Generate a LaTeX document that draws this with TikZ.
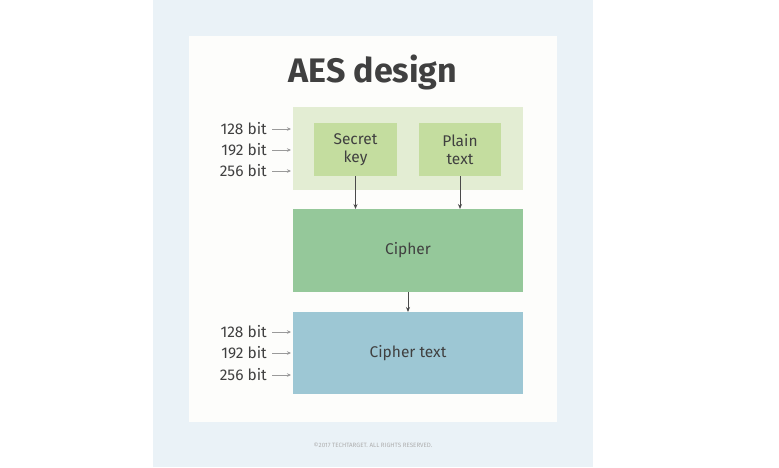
\documentclass[tikz,border=0pt]{standalone}
\usepackage{fontspec}
\setmainfont{Fira Sans}
\usetikzlibrary{arrows.meta}
\definecolor{outerbg}{HTML}{EAF2F7}
\definecolor{innerbg}{HTML}{FDFDFB}
\definecolor{lightgreen}{HTML}{E3EDD3}
\definecolor{midgreen}{HTML}{C4DD9F}
\definecolor{ciphergreen}{HTML}{95C89A}
\definecolor{cipherblue}{HTML}{9DC7D4}
\definecolor{txt}{HTML}{404040}
\definecolor{thinarrow}{HTML}{9A9A9A}
\definecolor{darkarrow}{HTML}{4A4A4A}
\tikzset{
  box/.style={inner sep=0pt, outer sep=0pt, text=txt, font=\fontsize{15.5}{18}\selectfont, align=center},
  bitlabel/.style={anchor=east, inner sep=0pt, text=txt, font=\fontsize{15.5}{18}\selectfont},
  bitarrow/.style={draw=thinarrow, line width=0.6pt, -{Stealth[length=4pt,width=3.5pt]}},
  flow/.style={draw=darkarrow, line width=0.9pt, -{Stealth[length=5pt,width=4pt]}}
}
\begin{document}
\begin{tikzpicture}[x=1pt,y=-1pt]
\useasboundingbox (0,0) rectangle (779,467);
\fill[white] (0,0) rectangle (779,467);
\fill[outerbg] (153,0) rectangle (593,467);
\fill[innerbg] (189,36) rectangle (557,422);
\node[text=txt, font=\fontsize{34}{38}\selectfont\bfseries] (title) at (373,72) {AES design};
% input group
\node[box, fill=lightgreen, minimum width=230pt, minimum height=83pt] (inputs) at (408,148.5) {};
\node[box, fill=midgreen, minimum width=83pt, minimum height=53pt] (key) at (355.5,149.5) {Secret\\key};
\node[box, fill=midgreen, minimum width=82pt, minimum height=53pt] (plain) at (460,149.5) {Plain\\text};
\node[box, fill=ciphergreen, minimum width=230pt, minimum height=83pt] (cipher) at (408,250.5) {Cipher};
\node[box, fill=cipherblue, minimum width=230pt, minimum height=82pt] (ctext) at (408,353) {Cipher text};
% flow arrows
\draw[flow] (key.south) -- (key.south |- cipher.north);
\draw[flow] (plain.south) -- (plain.south |- cipher.north);
\draw[flow] (cipher.south) -- (ctext.north);
% bit labels top
\node[bitlabel] (t128) at (267,129) {128 bit};
\node[bitlabel] (t192) at (267,150) {192 bit};
\node[bitlabel] (t256) at (267,171) {256 bit};
\coordinate (e1) at (291,129);
\coordinate (e2) at (291,150);
\coordinate (e3) at (291,171);
\draw[bitarrow] ([xshift=5pt]t128.east) -- (e1);
\draw[bitarrow] ([xshift=5pt]t192.east) -- (e2);
\draw[bitarrow] ([xshift=5pt]t256.east) -- (e3);
% bit labels bottom
\node[bitlabel] (b128) at (267,332) {128 bit};
\node[bitlabel] (b192) at (267,353) {192 bit};
\node[bitlabel] (b256) at (267,375) {256 bit};
\coordinate (f1) at (291,332);
\coordinate (f2) at (291,353);
\coordinate (f3) at (291,375);
\draw[bitarrow] ([xshift=5pt]b128.east) -- (f1);
\draw[bitarrow] ([xshift=5pt]b192.east) -- (f2);
\draw[bitarrow] ([xshift=5pt]b256.east) -- (f3);
% footer
\node[text=thinarrow!80, font=\fontsize{6.2}{7}\selectfont] (copy) at (373,445) {©2017 TECHTARGET. ALL RIGHTS RESERVED.};
\end{tikzpicture}
\end{document}
